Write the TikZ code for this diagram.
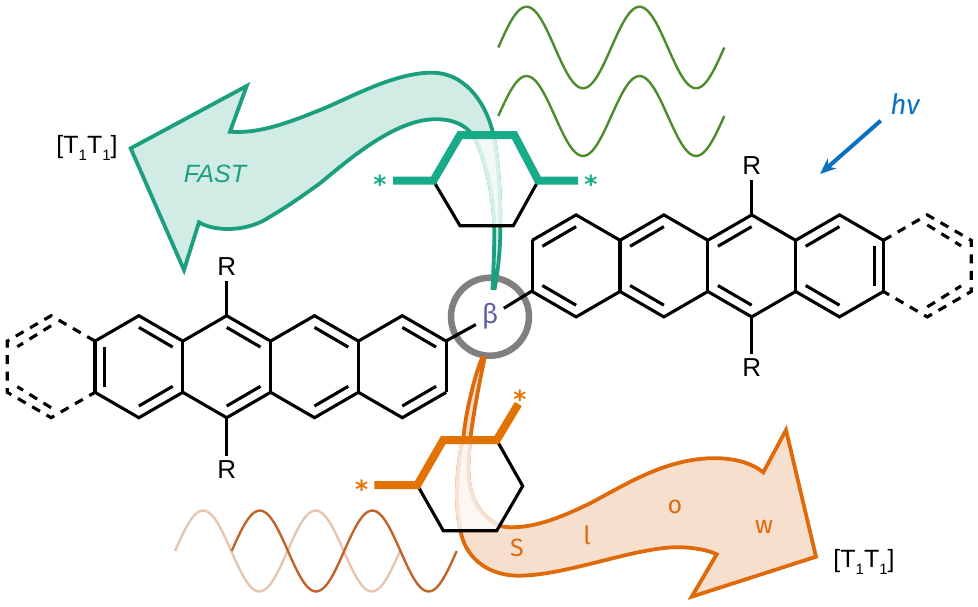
\documentclass[tikz,border=0pt]{standalone}
\usepackage{fontspec}
\setmainfont{Liberation Sans}
\newfontfamily\firafont{Fira Sans}
\newfontfamily\starfont{DejaVu Sans}
\usetikzlibrary{arrows.meta,positioning}
\definecolor{fastgreen}{HTML}{1B9F7E}
\definecolor{fastthick}{HTML}{17AB88}
\definecolor{fastfill}{HTML}{D1ECE4}
\definecolor{fastpale}{HTML}{F2FAF8}
\definecolor{fastline}{HTML}{D6EFE8}
\definecolor{slowred}{HTML}{DF6A0B}
\definecolor{slowthick}{HTML}{E37300}
\definecolor{slowfill}{HTML}{F7DFCD}
\definecolor{slowpale}{HTML}{FDF7F3}
\definecolor{slowline}{HTML}{F7E3D5}
\definecolor{wavegreen}{HTML}{4F8A2E}
\definecolor{wavedark}{HTML}{C0642A}
\definecolor{wavelight}{HTML}{E8C6AE}
\definecolor{ringgrey}{HTML}{808080}
\definecolor{betablue}{HTML}{5A5FA8}
\definecolor{lightblue}{HTML}{0A70C0}
\newcommand{\subone}{\raisebox{-6.5pt}{\fontsize{15}{15}\selectfont 1}}
\tikzset{
  bond/.style={line width=3.1pt},
  dashbond/.style={bond,dash pattern=on 9pt off 7.5pt},
  ribbon/.style={line width=3.8pt,miter limit=20},
  thickbond/.style={line width=8pt,line join=miter},
  wave/.style={line width=2.4pt},
  rlabel/.style={inner sep=0pt,outer sep=5pt,font=\fontsize{26}{28}\selectfont},
  pairlabel/.style={inner sep=0pt,font=\fontsize{25}{28}\selectfont},
  slowletter/.style={inner sep=0pt,text=slowred,font=\firafont\fontsize{25}{28}\selectfont},
  starlabel/.style={inner sep=0pt,font=\starfont\bfseries\fontsize{25}{28}\selectfont}
}
% one acene: x in ring steps, y in pt from the middle
\newcommand{\acene}{%
  \foreach \i in {-5,-3,-1,1,3}{\draw[bond] (\i,-25.6) -- (\i,25.6);}
  \foreach \i in {-5,-3,-1,1}{
    \draw[bond] (\i,-25.6) -- ({\i+1},-51) -- ({\i+2},-25.6);
    \draw[bond] (\i,25.6) -- ({\i+1},51) -- ({\i+2},25.6);
    \draw[bond] ({\i+.23},-19.6) -- ({\i+1},-39.3);
    \draw[bond] ({\i+.23},19.6) -- ({\i+1},39.3);
  }
  \draw[bond] (2.79,-20) -- (2.79,20);
  \draw[dashbond] (3,-25.6) -- (4,-51) -- (5,-25.6) -- (5,25.6) -- (4,51) -- (3,25.6);
  \draw[dashbond] (4,-41) -- (4.77,-20);
  \draw[dashbond] (4,41) -- (4.77,20);
}
\newcommand{\fastpath}{(494.8,288) .. controls (498,270) and (500.5,250) .. (500.3,226.7)
  .. controls (500.5,195) and (498,155) .. (492.7,131.7)
  .. controls (484,98) and (462,73) .. (433,72.7)
  .. controls (395,72) and (350,98) .. (320,110)
  .. controls (290,122) and (260,134) .. (230,131.7)
  -- (246.7,86) -- (130.7,148.3) -- (184,270) -- (199,222.3)
  .. controls (215,232) and (248,232) .. (270,216.7)
  .. controls (290,205) and (305,194) .. (320,183.3)
  .. controls (345,163) and (395,118) .. (436.7,119.3)
  .. controls (455,119) and (470,127) .. (477,142)
  .. controls (487,165) and (494.5,200) .. (494.3,230)
  .. controls (494.3,250) and (493.5,270) .. (492.5,288) -- cycle}
\newcommand{\slowpath}{(482,358) .. controls (475,375) and (466,410) .. (463.5,436.7)
  .. controls (456,470) and (455,505) .. (460.7,531.7)
  .. controls (465,555) and (485,576) .. (520,575.7)
  .. controls (570,575) and (640,545) .. (683.3,547.3)
  .. controls (695,548) and (708,550) .. (716.7,554.3)
  -- (691.7,596.7) -- (816,556.7) -- (786,430) -- (763.3,472.3)
  .. controls (748,460) and (725,457) .. (705,458.5)
  .. controls (660,462) and (625,485) .. (590,503.3)
  .. controls (560,518) and (530,530) .. (503.3,526.7)
  .. controls (480,520) and (468,495) .. (468.3,470)
  .. controls (468,440) and (477,395) .. (484.5,358) -- cycle}
\begin{document}
\begin{tikzpicture}[x=1pt,y=-1pt]
\useasboundingbox (0,0) rectangle (978,606);
% waves
\foreach \c/\a in {47.5/40.8,116/40}{
  \draw[wave,wavegreen] plot[domain=0:2,samples=80] ({498.3+113*\x},{\c-\a*sin(360*\x)});
}
\draw[wave,wavelight] plot[domain=0:2,samples=80] ({175+112.5*\x},{551-40.5*sin(360*\x)});
\draw[wave,wavedark] plot[domain=0:2,samples=80] ({231.7+112.5*\x},{551-40.5*sin(360*\x)});
% the two acenes
\begin{scope}[shift={(751.7,265.9)},x=43.9pt]\acene\end{scope}
\begin{scope}[shift={(226.7,366.7)},x=-43.9pt]\acene\end{scope}
\coordinate (rvtop) at (751.7,215);
\coordinate (rvbot) at (751.7,316.7);
\coordinate (lvtop) at (226.7,315.7);
\coordinate (lvbot) at (226.7,417.7);
\coordinate (rvlink) at (532,291);
\coordinate (lvlink) at (446,341);
\node[rlabel] (rtop) at (751.7,166) {R};
\node[rlabel] (rbot) at (751.7,368) {R};
\node[rlabel] (ltop) at (226.7,267) {R};
\node[rlabel] (lbot) at (226.7,470) {R};
\draw[bond] (rvtop) -- (rtop);
\draw[bond] (rvbot) -- (rbot);
\draw[bond] (lvtop) -- (ltop);
\draw[bond] (lvbot) -- (lbot);
% linker
\node[circle,draw=ringgrey,line width=6.5pt,minimum size=78pt,inner sep=0pt] (betaring) at (490,316.7) {};
\node[circle,minimum size=32pt,inner sep=0pt,text=betablue,font=\firafont\fontsize{27}{28}\selectfont] (beta) at (490,316.7) {β};
\draw[bond] (rvlink) -- (beta);
\draw[bond] (lvlink) -- (beta);
% fast arrow
\draw[ribbon,draw=fastgreen,fill=fastfill] \fastpath;
\begin{scope}
\clip (433.3,180.7) -- (460,135) -- (514.3,135) -- (538.3,180.7) -- (513.3,225.7) -- (460,225.7) -- cycle;
\draw[ribbon,draw=fastline,fill=fastpale] \fastpath;
\end{scope}
\coordinate (fh1) at (433.3,180.7);
\coordinate (fh2) at (460,135);
\coordinate (fh3) at (514.3,135);
\coordinate (fh4) at (538.3,180.7);
\coordinate (fh5) at (513.3,225.7);
\coordinate (fh6) at (460,225.7);
\draw[bond] (fh1) -- (fh6) -- (fh5) -- (fh4);
\draw[thickbond,fastthick] (393,180.7) -- (fh1) -- (fh2) -- (fh3) -- (fh4) -- (578,180.7);
\node[starlabel,text=fastthick] (faststarl) at (380,184) {*};
\node[starlabel,text=fastthick] (faststarr) at (591,184) {*};
% slow arrow
\draw[ribbon,draw=slowred,fill=slowfill] \slowpath;
\begin{scope}
\clip (417.3,486) -- (443.3,440) -- (496.7,440) -- (522.7,486) -- (496.7,530.7) -- (443.3,530.7) -- cycle;
\draw[ribbon,draw=slowline,fill=slowpale] \slowpath;
\end{scope}
\coordinate (sh1) at (417.3,485);
\coordinate (sh2) at (443.3,440);
\coordinate (sh3) at (496.7,440);
\coordinate (sh4) at (522.7,486);
\coordinate (sh5) at (496.7,530.7);
\coordinate (sh6) at (443.3,530.7);
\draw[bond] (sh1) -- (sh6) -- (sh5) -- (sh4) -- (sh3);
\draw[thickbond,slowthick] (374.3,485) -- (sh1) -- (sh2) -- (sh3) -- (518.3,404);
\node[starlabel,text=slowthick] (slowstarl) at (361.7,489) {*};
\node[starlabel,text=slowthick] (slowstart) at (520,399) {*};
% labels
\node[inner sep=0pt,text=fastgreen,font=\itshape\fontsize{25}{28}\selectfont] (fast) at (215,174) {FAST};
\node[slowletter] (ls) at (517,548) {S};
\node[slowletter] (ll) at (587,535) {l};
\node[slowletter] (lo) at (675,507) {o};
\node[slowletter] (lw) at (764,527) {w};
\node[pairlabel] (pairleft) at (87,148) {[T\subone T\subone]};
\node[pairlabel] (pairright) at (864,562) {[T\subone T\subone]};
\node[inner sep=0pt,text=lightblue,font=\firafont\itshape\fontsize{28}{28}\selectfont] (hv) at (905,104) {hν};
\coordinate (lighttail) at (880.7,120.7);
\coordinate (lighthead) at (820,174);
\draw[line width=4pt,lightblue,-{Stealth[length=16pt,width=13pt,inset=5pt]}] (lighttail) -- (lighthead);
\end{tikzpicture}
\end{document}
